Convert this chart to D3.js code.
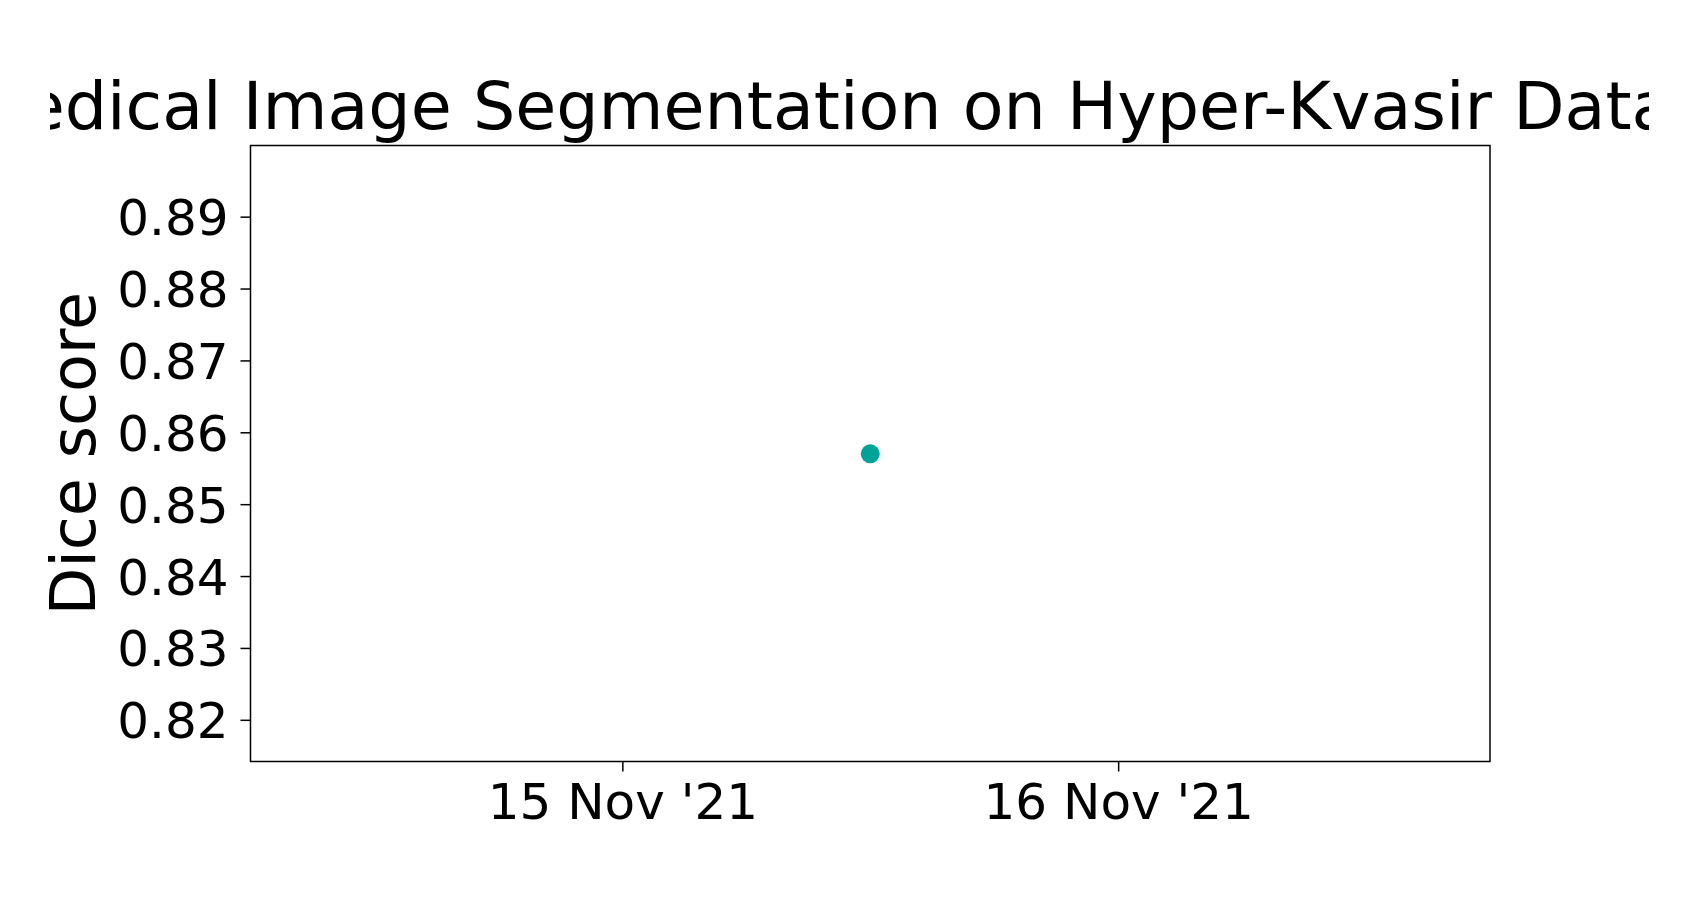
<!DOCTYPE html>
<html>
<head>
<meta charset="utf-8">
<script src="https://cdn.jsdelivr.net/npm/d3@7"></script>
<style>
  body { margin: 0; background: #fff; }
  svg { display: block; font-family: "DejaVu Sans", sans-serif; }
</style>
</head>
<body>
<script>
var title = "Medical Image Segmentation on Hyper-Kvasir Dataset";
var yLabel = "Dice score";
var dates = [new Date(2021, 10, 15, 12, 0)];
var scores = [0.857];
var xTicks = [new Date(2021, 10, 15), new Date(2021, 10, 16)];
var yTicks = [0.82, 0.83, 0.84, 0.85, 0.86, 0.87, 0.88, 0.89];

var width = 1700;
var height = 900;
var padding = { top: 145.5, right: 210, bottom: 138.5, left: 250.5 };
var plotW = width - padding.left - padding.right;
var plotH = height - padding.top - padding.bottom;

var svg = d3.select("body").append("svg")
    .attr("width", width)
    .attr("height", height);

var day = 24 * 3600 * 1000;
var xScale = d3.scaleTime()
    .domain([new Date(dates[0].getTime() - 1.25 * day), new Date(dates[0].getTime() + 1.25 * day)])
    .range([0, plotW]);
var yScale = d3.scaleLinear()
    .domain([0.8142, 0.8999])
    .range([plotH, 0]);

var fmt = d3.timeFormat("%d %b '%y");

var xAxis = d3.axisBottom(xScale)
    .tickValues(xTicks)
    .tickFormat(fmt)
    .tickSize(10)
    .tickPadding(10);
var yAxis = d3.axisLeft(yScale)
    .tickValues(yTicks)
    .tickFormat(d3.format(".2f"))
    .tickSize(10)
    .tickPadding(12);

var g = svg.append("g")
    .attr("transform", "translate(" + padding.left + "," + padding.top + ")");

var xAxisG = g.append("g")
    .attr("transform", "translate(0," + plotH + ")")
    .call(xAxis);
var yAxisG = g.append("g").call(yAxis);

[xAxisG, yAxisG].forEach(function(a) {
    a.select(".domain").remove();
    a.selectAll(".tick line").attr("stroke", "#000").attr("stroke-width", 1.5);
    a.selectAll(".tick text")
        .attr("fill", "#000")
        .style("font-size", "50px")
        .style("font-family", "DejaVu Sans");
});
xAxisG.selectAll(".tick text").attr("dy", "0.75em");
yAxisG.selectAll(".tick text").attr("dy", "0.36em");

// frame
g.append("rect")
    .attr("width", plotW)
    .attr("height", plotH)
    .attr("fill", "none")
    .attr("stroke", "#000")
    .attr("stroke-width", 1.5);

g.selectAll("circle")
    .data(dates)
    .enter()
    .append("circle")
    .attr("cx", function(d) { return xScale(d); })
    .attr("cy", function(d, i) { return yScale(scores[i]); })
    .attr("r", 9.5)
    .attr("fill", "#00a397");

// title, clipped on both sides like the original
svg.append("clipPath").attr("id", "tclip")
    .append("rect").attr("x", 50).attr("y", 0).attr("width", 1599).attr("height", 145);
svg.append("text")
    .attr("clip-path", "url(#tclip)")
    .attr("x", padding.left + plotW / 2)
    .attr("y", 129.3)
    .attr("text-anchor", "middle")
    .style("font-size", "66.7px")
    .text(title);

svg.append("text")
    .attr("transform", "translate(95," + (padding.top + plotH / 2) + ") rotate(-90)")
    .attr("text-anchor", "middle")
    .style("font-size", "62px")
    .text(yLabel);
</script>
</body>
</html>
